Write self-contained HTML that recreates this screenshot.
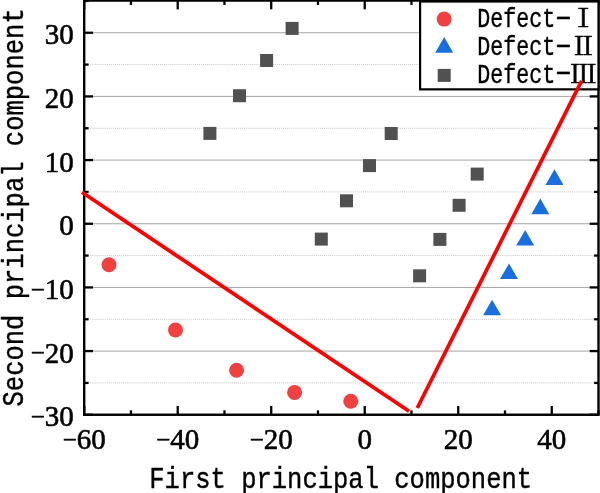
<!DOCTYPE html>
<html lang="en"><head><meta charset="utf-8"><title>PCA defect scatter</title>
<style>
html,body{margin:0;padding:0;background:#fff;}
body{width:600px;height:493px;overflow:hidden;}
svg{display:block;}
.num{font-family:"Liberation Serif","Noto Serif CJK SC",serif;font-size:29px;fill:#000;stroke:#000;stroke-width:0.6px;}
.lab{font-family:"Liberation Mono","Noto Serif CJK SC",monospace;fill:#000;stroke:#000;stroke-width:0.4px;}
.rom{font-family:"Liberation Serif","Noto Serif CJK SC",serif;fill:#000;stroke:#000;stroke-width:0.6px;}
</style></head><body>
<svg width="600" height="493" viewBox="0 0 600 493">
<rect width="600" height="493" fill="#fff"/>
<g stroke="#a4a4a4" stroke-width="1" fill="none">
<line x1="84.20" x2="598.50" y1="32.75" y2="32.75"/>
<line x1="84.20" x2="598.50" y1="96.42" y2="96.42"/>
<line x1="84.20" x2="598.50" y1="160.08" y2="160.08"/>
<line x1="84.20" x2="598.50" y1="223.75" y2="223.75"/>
<line x1="84.20" x2="598.50" y1="287.42" y2="287.42"/>
<line x1="84.20" x2="598.50" y1="351.08" y2="351.08"/>
</g>
<g stroke="#c6c6c6" stroke-width="1" stroke-dasharray="1 1.05" fill="none">
<line x1="84.20" x2="598.50" y1="64.58" y2="64.58"/>
<line x1="84.20" x2="598.50" y1="128.25" y2="128.25"/>
<line x1="84.20" x2="598.50" y1="191.92" y2="191.92"/>
<line x1="84.20" x2="598.50" y1="255.58" y2="255.58"/>
<line x1="84.20" x2="598.50" y1="319.25" y2="319.25"/>
<line x1="84.20" x2="598.50" y1="382.92" y2="382.92"/>
</g>
<g stroke="#000" stroke-width="2.3" fill="none">
<line x1="84.20" x2="93.00" y1="414.75" y2="414.75"/>
<line x1="598.50" x2="589.70" y1="414.75" y2="414.75"/>
<line x1="84.20" x2="88.60" y1="382.92" y2="382.92"/>
<line x1="598.50" x2="594.10" y1="382.92" y2="382.92"/>
<line x1="84.20" x2="93.00" y1="351.08" y2="351.08"/>
<line x1="598.50" x2="589.70" y1="351.08" y2="351.08"/>
<line x1="84.20" x2="88.60" y1="319.25" y2="319.25"/>
<line x1="598.50" x2="594.10" y1="319.25" y2="319.25"/>
<line x1="84.20" x2="93.00" y1="287.42" y2="287.42"/>
<line x1="598.50" x2="589.70" y1="287.42" y2="287.42"/>
<line x1="84.20" x2="88.60" y1="255.58" y2="255.58"/>
<line x1="598.50" x2="594.10" y1="255.58" y2="255.58"/>
<line x1="84.20" x2="93.00" y1="223.75" y2="223.75"/>
<line x1="598.50" x2="589.70" y1="223.75" y2="223.75"/>
<line x1="84.20" x2="88.60" y1="191.92" y2="191.92"/>
<line x1="598.50" x2="594.10" y1="191.92" y2="191.92"/>
<line x1="84.20" x2="93.00" y1="160.08" y2="160.08"/>
<line x1="598.50" x2="589.70" y1="160.08" y2="160.08"/>
<line x1="84.20" x2="88.60" y1="128.25" y2="128.25"/>
<line x1="598.50" x2="594.10" y1="128.25" y2="128.25"/>
<line x1="84.20" x2="93.00" y1="96.42" y2="96.42"/>
<line x1="598.50" x2="589.70" y1="96.42" y2="96.42"/>
<line x1="84.20" x2="88.60" y1="64.58" y2="64.58"/>
<line x1="598.50" x2="594.10" y1="64.58" y2="64.58"/>
<line x1="84.20" x2="93.00" y1="32.75" y2="32.75"/>
<line x1="598.50" x2="589.70" y1="32.75" y2="32.75"/>
<line x1="84.20" x2="88.60" y1="0.92" y2="0.92"/>
<line x1="598.50" x2="594.10" y1="0.92" y2="0.92"/>
<line x1="84.20" x2="84.20" y1="414.75" y2="405.95"/>
<line x1="84.20" x2="84.20" y1="0.55" y2="9.35"/>
<line x1="130.95" x2="130.95" y1="414.75" y2="410.35"/>
<line x1="130.95" x2="130.95" y1="0.55" y2="4.95"/>
<line x1="177.71" x2="177.71" y1="414.75" y2="405.95"/>
<line x1="177.71" x2="177.71" y1="0.55" y2="9.35"/>
<line x1="224.46" x2="224.46" y1="414.75" y2="410.35"/>
<line x1="224.46" x2="224.46" y1="0.55" y2="4.95"/>
<line x1="271.22" x2="271.22" y1="414.75" y2="405.95"/>
<line x1="271.22" x2="271.22" y1="0.55" y2="9.35"/>
<line x1="317.97" x2="317.97" y1="414.75" y2="410.35"/>
<line x1="317.97" x2="317.97" y1="0.55" y2="4.95"/>
<line x1="364.73" x2="364.73" y1="414.75" y2="405.95"/>
<line x1="364.73" x2="364.73" y1="0.55" y2="9.35"/>
<line x1="411.48" x2="411.48" y1="414.75" y2="410.35"/>
<line x1="411.48" x2="411.48" y1="0.55" y2="4.95"/>
<line x1="458.24" x2="458.24" y1="414.75" y2="405.95"/>
<line x1="458.24" x2="458.24" y1="0.55" y2="9.35"/>
<line x1="504.99" x2="504.99" y1="414.75" y2="410.35"/>
<line x1="504.99" x2="504.99" y1="0.55" y2="4.95"/>
<line x1="551.75" x2="551.75" y1="414.75" y2="405.95"/>
<line x1="551.75" x2="551.75" y1="0.55" y2="9.35"/>
<line x1="598.50" x2="598.50" y1="414.75" y2="410.35"/>
<line x1="598.50" x2="598.50" y1="0.55" y2="4.95"/>
</g>
<g fill="#515151">
<rect x="285.6" y="21.9" width="13" height="13"/>
<rect x="260.1" y="54.0" width="13" height="13"/>
<rect x="233.0" y="89.2" width="13" height="13"/>
<rect x="203.4" y="126.9" width="13" height="13"/>
<rect x="384.7" y="127.0" width="13" height="13"/>
<rect x="363.0" y="159.1" width="13" height="13"/>
<rect x="340.0" y="194.3" width="13" height="13"/>
<rect x="314.8" y="232.6" width="13" height="13"/>
<rect x="470.7" y="167.6" width="13" height="13"/>
<rect x="452.6" y="198.8" width="13" height="13"/>
<rect x="433.4" y="232.9" width="13" height="13"/>
<rect x="413.1" y="269.3" width="13" height="13"/>
</g>
<g fill="#1a6fdf">
<polygon points="554.5,169.3 563.5,184.9 545.5,184.9"/>
<polygon points="540.3,198.6 549.3,214.2 531.3,214.2"/>
<polygon points="525.2,230.0 534.2,245.6 516.2,245.6"/>
<polygon points="509.0,263.4 518.0,279.0 500.0,279.0"/>
<polygon points="492.1,299.7 501.1,315.3 483.1,315.3"/>
</g>
<g fill="#f14040">
<circle cx="109.0" cy="264.8" r="7.5"/>
<circle cx="175.5" cy="330.0" r="7.5"/>
<circle cx="236.6" cy="370.3" r="7.5"/>
<circle cx="294.6" cy="392.4" r="7.5"/>
<circle cx="350.8" cy="401.2" r="7.5"/>
</g>
<rect x="84.20" y="0.55" width="514.30" height="414.20" fill="none" stroke="#000" stroke-width="2.4"/>
<rect x="420.10" y="1.50" width="178.40" height="87.85" fill="#fff" stroke="#000" stroke-width="2.2"/>
<circle cx="444.2" cy="19.1" r="7.5" fill="#f14040"/>
<polygon points="444.2,37.1 453.2,52.7 435.2,52.7" fill="#1a6fdf"/>
<rect x="437.7" y="68.9" width="13" height="13" fill="#515151"/>
<text class="lab" font-size="27.0" x="477.2" y="27.0"><tspan textLength="78" lengthAdjust="spacingAndGlyphs">Defect</tspan><tspan textLength="27.4" lengthAdjust="spacingAndGlyphs" dx="-5.5" dy="-2.4">-</tspan><tspan class="rom" font-size="25.2" textLength="26.6" lengthAdjust="spacingAndGlyphs" dx="-7.0" dy="2.4">Ⅰ</tspan></text>
<text class="lab" font-size="27.0" x="477.2" y="54.9"><tspan textLength="78" lengthAdjust="spacingAndGlyphs">Defect</tspan><tspan textLength="27.4" lengthAdjust="spacingAndGlyphs" dx="-5.5" dy="-2.4">-</tspan><tspan class="rom" font-size="25.2" textLength="26.6" lengthAdjust="spacingAndGlyphs" dx="-7.0" dy="2.4">Ⅱ</tspan></text>
<text class="lab" font-size="27.0" x="477.2" y="82.7"><tspan textLength="78" lengthAdjust="spacingAndGlyphs">Defect</tspan><tspan textLength="27.4" lengthAdjust="spacingAndGlyphs" dx="-5.5" dy="-2.4">-</tspan><tspan class="rom" font-size="25.2" textLength="26.6" lengthAdjust="spacingAndGlyphs" dx="-7.0" dy="2.4">Ⅲ</tspan></text>
<g stroke="#ff0000" stroke-width="3.75" fill="none">
<line x1="82.0" y1="192.3" x2="409.1" y2="411.3"/>
<line x1="417.3" y1="408.0" x2="581.6" y2="80.9"/>
</g>
<text class="num" x="73.8" y="44.1" text-anchor="end">30</text>
<text class="num" x="73.8" y="107.8" text-anchor="end">20</text>
<text class="num" x="73.8" y="171.5" text-anchor="end">10</text>
<text class="num" x="73.8" y="235.2" text-anchor="end">0</text>
<text class="num" x="73.8" y="298.8" text-anchor="end"><tspan font-size="25" dy="-1.3">−</tspan><tspan dy="1.3">10</tspan></text>
<text class="num" x="73.8" y="362.5" text-anchor="end"><tspan font-size="25" dy="-1.3">−</tspan><tspan dy="1.3">20</tspan></text>
<text class="num" x="73.8" y="426.1" text-anchor="end"><tspan font-size="25" dy="-1.3">−</tspan><tspan dy="1.3">30</tspan></text>
<text class="num" x="84.2" y="449.2" text-anchor="middle"><tspan font-size="25" dy="-1.3">−</tspan><tspan dy="1.3">60</tspan></text>
<text class="num" x="177.7" y="449.2" text-anchor="middle"><tspan font-size="25" dy="-1.3">−</tspan><tspan dy="1.3">40</tspan></text>
<text class="num" x="271.2" y="449.2" text-anchor="middle"><tspan font-size="25" dy="-1.3">−</tspan><tspan dy="1.3">20</tspan></text>
<text class="num" x="364.7" y="449.2" text-anchor="middle">0</text>
<text class="num" x="458.2" y="449.2" text-anchor="middle">20</text>
<text class="num" x="551.7" y="449.2" text-anchor="middle">40</text>
<text class="lab" font-size="30.2" transform="translate(340.7,488) scale(0.8453,1)" text-anchor="middle">First principal component</text>
<text class="lab" font-size="30.2" transform="translate(23.2,207.4) rotate(-90) scale(0.8453,1)" text-anchor="middle">Second principal component</text>
</svg></body></html>
